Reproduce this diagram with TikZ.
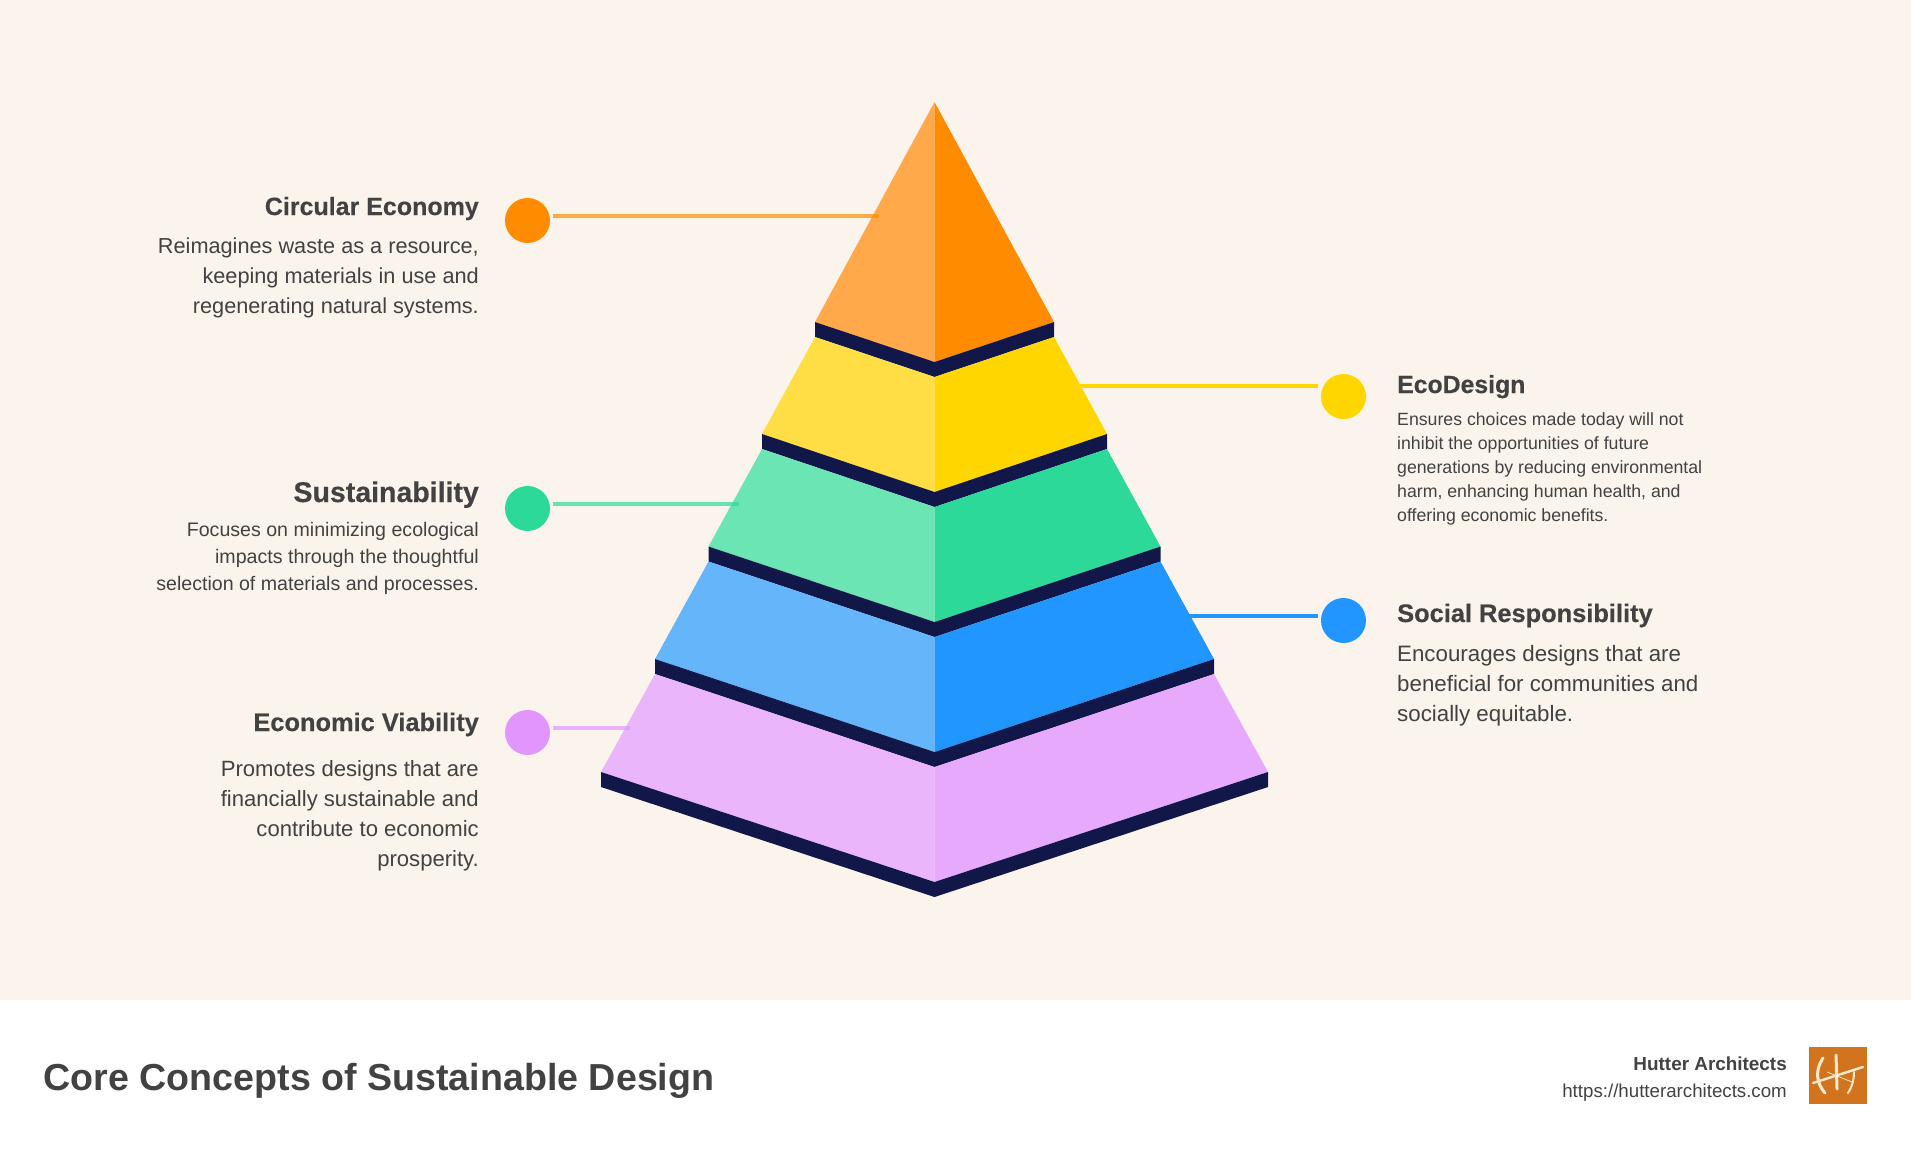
\documentclass[tikz,border=0pt]{standalone}
\usepackage{fontspec}
\setmainfont{Liberation Sans}
\newfontfamily\blackfont[BoldFeatures={FakeBold=0.4}]{Liberation Sans}
\usepackage{tikz}
\usetikzlibrary{positioning}
\definecolor{paper}{HTML}{FBF4EC}
\definecolor{ink}{HTML}{424242}
\definecolor{navy}{HTML}{12174A}
\definecolor{orangeA}{HTML}{FFA94A}
\definecolor{orangeB}{HTML}{FF8C00}
\definecolor{yellowA}{HTML}{FFDD44}
\definecolor{yellowB}{HTML}{FFD600}
\definecolor{greenA}{HTML}{6BE5B3}
\definecolor{greenB}{HTML}{2DD998}
\definecolor{blueA}{HTML}{64B5FA}
\definecolor{blueB}{HTML}{2196FF}
\definecolor{pinkA}{HTML}{EAB5FB}
\definecolor{pinkB}{HTML}{E6A9FB}
\definecolor{pinkC}{HTML}{E295FD}
\definecolor{logoback}{HTML}{D2731E}
\definecolor{logostroke}{HTML}{FBE9D0}
\tikzstyle{dot} =
        [
                circle,
                minimum size = 45pt,
                inner sep = 0pt,
                outer sep = 3pt
        ]
\tikzstyle{line} =
        [
                line width = 4pt
        ]
\tikzstyle{heading} =
        [
                text = ink,
                inner sep = 0pt
        ]
\tikzstyle{bodyleft} =
        [
                text = ink,
                inner sep = 0pt,
                anchor = north east,
                align = right
        ]
\tikzstyle{bodyright} =
        [
                text = ink,
                inner sep = 0pt,
                anchor = north west,
                align = left
        ]
\begin{document}
\begin{tikzpicture}[x=1pt,y=-1pt]
    \useasboundingbox (0,0) rectangle (1911,1160);
    \fill [paper] (0,0) rectangle (1911,1000);
    \fill [white] (0,1000) rectangle (1911,1160);
    % pyramid, top to bottom
    \fill [orangeA] (934.5,102) -- (815,322) -- (934.5,362) -- cycle;
    \fill [orangeB] (934.5,102) -- (1054,322) -- (934.5,362) -- cycle;
    \fill [navy] (815,322) -- (934.5,362) -- (1054,322) -- (1054,337) -- (934.5,377) -- (815,337) -- cycle;
    \fill [yellowA] (815,337) -- (934.5,377) -- (934.5,492) -- (762,434) -- cycle;
    \fill [yellowB] (1054,337) -- (934.5,377) -- (934.5,492) -- (1107,434) -- cycle;
    \fill [navy] (762,434) -- (934.5,492) -- (1107,434) -- (1107,449) -- (934.5,507) -- (762,449) -- cycle;
    \fill [greenA] (762,449) -- (934.5,507) -- (934.5,622) -- (708.5,546.5) -- cycle;
    \fill [greenB] (1107,449) -- (934.5,507) -- (934.5,622) -- (1160.5,546.5) -- cycle;
    \fill [navy] (708.5,546.5) -- (934.5,622) -- (1160.5,546.5) -- (1160.5,561.5) -- (934.5,637) -- (708.5,561.5) -- cycle;
    \fill [blueA] (708.5,561.5) -- (934.5,637) -- (934.5,752) -- (655,659) -- cycle;
    \fill [blueB] (1160.5,561.5) -- (934.5,637) -- (934.5,752) -- (1214,659) -- cycle;
    \fill [navy] (655,659) -- (934.5,752) -- (1214,659) -- (1214,674) -- (934.5,767) -- (655,674) -- cycle;
    \fill [pinkA] (655,674) -- (934.5,767) -- (934.5,882) -- (601,772) -- cycle;
    \fill [pinkB] (1214,674) -- (934.5,767) -- (934.5,882) -- (1268,772) -- cycle;
    \fill [navy] (601,772) -- (934.5,882) -- (1268,772) -- (1268,787) -- (934.5,897) -- (601,787) -- cycle;
    % dots
    \node [dot, fill = orangeB] (circulardot) at (527.5,220.5) {};
    \node [dot, fill = greenB] (sustaindot) at (527.5,508.5) {};
    \node [dot, fill = pinkC] (viabilitydot) at (527.5,732.5) {};
    \node [dot, fill = yellowB] (ecodot) at (1343.5,396.5) {};
    \node [dot, fill = blueB] (socialdot) at (1343.5,620.5) {};
    % line ends on the pyramid
    \coordinate (circularend) at (879,216);
    \coordinate (sustainend) at (739,504);
    \coordinate (viabilityend) at (630,728);
    \coordinate (ecoend) at (1078,386);
    \coordinate (socialend) at (1188,616);
    \draw [line, draw = orangeB, opacity = 0.7] (circulardot.east |- circularend) -- (circularend);
    \draw [line, draw = greenB, opacity = 0.7] (sustaindot.east |- sustainend) -- (sustainend);
    \draw [line, draw = pinkC, opacity = 0.7] (viabilitydot.east |- viabilityend) -- (viabilityend);
    \draw [line, draw = yellowB] (ecodot.west |- ecoend) -- (ecoend);
    \draw [line, draw = blueB] (socialdot.west |- socialend) -- (socialend);
    % left texts
    \node [heading, font = \blackfont\bfseries\fontsize{25}{30}\selectfont, anchor = base east] (circularhead) at (479,215) {Circular Economy};
    \node [bodyleft, font = \fontsize{21.7}{30}\selectfont] (circulartext) at (479,237.5) {Reimagines waste as a resource,\\keeping materials in use and\\regenerating natural systems.};
    \node [heading, font = \blackfont\bfseries\fontsize{28.5}{30}\selectfont, anchor = base east] (sustainhead) at (479,502) {Sustainability};
    \node [bodyleft, font = \fontsize{19.6}{27}\selectfont] (sustaintext) at (479,522.5) {Focuses on minimizing ecological\\impacts through the thoughtful\\selection of materials and processes.};
    \node [heading, font = \blackfont\bfseries\fontsize{25.4}{30}\selectfont, anchor = base east] (viabilityhead) at (479,731) {Economic Viability};
    \node [bodyleft, font = \fontsize{22.1}{30}\selectfont] (viabilitytext) at (479,760) {Promotes designs that are\\financially sustainable and\\contribute to economic\\prosperity.};
    % right texts
    \node [heading, font = \blackfont\bfseries\fontsize{24.8}{30}\selectfont, anchor = base west] (ecohead) at (1397,393) {EcoDesign};
    \node [bodyright, font = \fontsize{17.7}{24}\selectfont] (ecotext) at (1397,412) {Ensures choices made today will not\\inhibit the opportunities of future\\generations by reducing environmental\\harm, enhancing human health, and\\offering economic benefits.};
    \node [heading, font = \blackfont\bfseries\fontsize{25.4}{30}\selectfont, anchor = base west] (socialhead) at (1397,622) {Social Responsibility};
    \node [bodyright, font = \fontsize{22.3}{30}\selectfont] (socialtext) at (1397,645.5) {Encourages designs that are\\beneficial for communities and\\socially equitable.};
    % footer
    \node [heading, font = \bfseries\fontsize{37.6}{44}\selectfont, anchor = base west] (title) at (43.5,1090) {Core Concepts of Sustainable Design};
    \node [heading, font = \bfseries\fontsize{18.9}{24}\selectfont, anchor = base east] (firm) at (1787,1070) {Hutter Architects};
    \node [heading, font = \fontsize{18.7}{24}\selectfont, anchor = base east] (url) at (1787,1097) {https://hutterarchitects.com};
    % logo
    \fill [logoback] (1809,1047) rectangle (1867,1104);
    \draw [logostroke, line width = 3pt, line cap = round] (1823,1058) .. controls (1815,1070) and (1816,1083) .. (1825,1093);
    \draw [logostroke, line width = 3pt, line cap = round] (1836,1055) -- (1837,1089);
    \draw [logostroke, line width = 2.4pt, line cap = round] (1813,1083) -- (1863,1067);
    \draw [logostroke, line width = 2pt, line cap = round] (1854,1072) .. controls (1854,1080) and (1852,1087) .. (1848,1093);
    \draw [logostroke, line width = 0.8pt] (1827,1072) -- (1852,1082);
\end{tikzpicture}
\end{document}
